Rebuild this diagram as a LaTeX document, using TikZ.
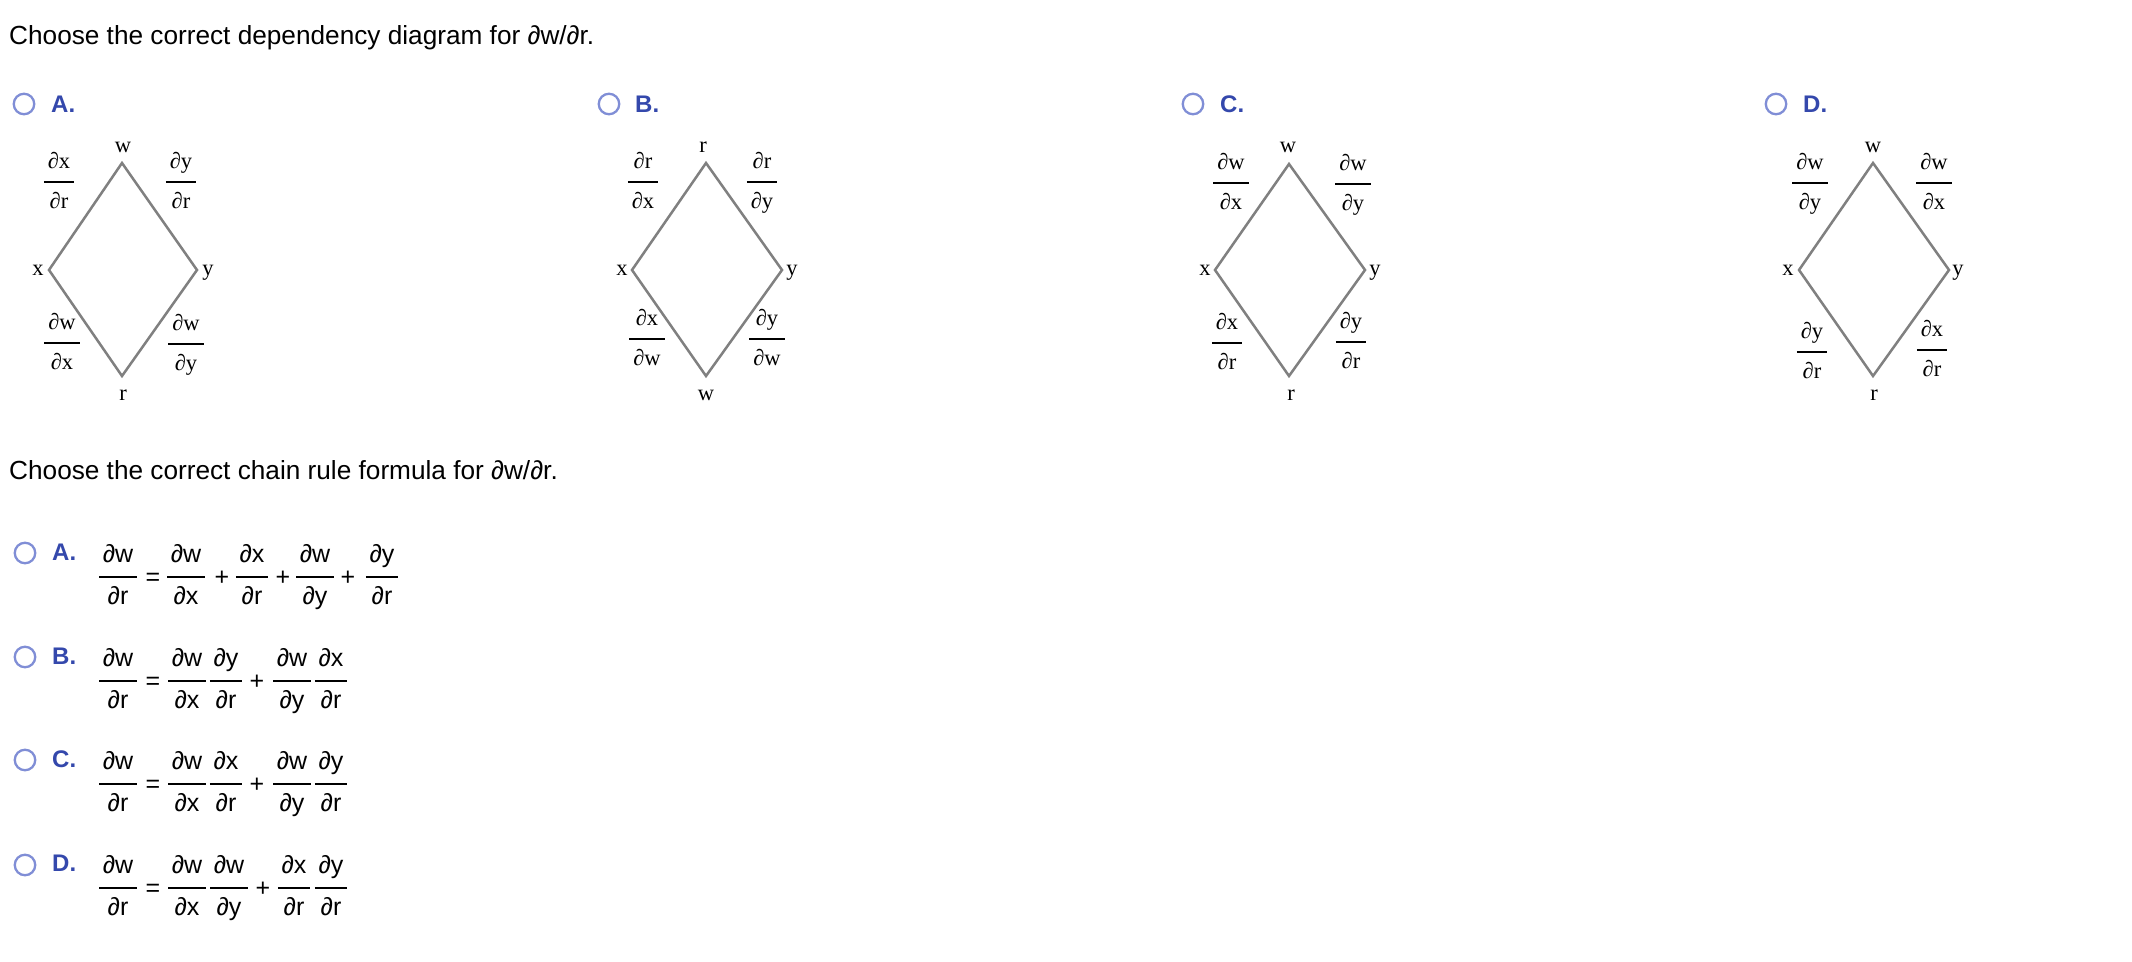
\documentclass[tikz,border=0pt]{standalone}
\usepackage{fontspec}
\setmainfont{Liberation Serif}
\newfontfamily\sansf{Liberation Sans}
\usetikzlibrary{fit}
\definecolor{optblue}{RGB}{52,72,172}
\definecolor{radiocol}{RGB}{128,142,214}
\definecolor{diamgray}{RGB}{128,128,128}
\tikzset{
 ser/.style={font=\fontsize{22.5}{26}\selectfont, inner ysep=0pt, inner xsep=3.5pt},
 sns/.style={font=\sansf\fontsize{25}{30}\selectfont, inner ysep=0pt, inner xsep=3.3pt},
 ttl/.style={font=\sansf\fontsize{26.2}{31}\selectfont, inner sep=0pt, anchor=base west},
 optlab/.style={font=\sansf\bfseries\fontsize{24}{28}\selectfont, text=optblue, inner sep=0pt, anchor=base west},
 radio/.style={circle, draw=radiocol, line width=2.3pt, minimum size=20.5pt, inner sep=0pt},
 diam/.style={draw=diamgray, line width=2.5pt, line join=miter},
 sfbar/.style={line width=1.8pt},
 tfbar/.style={line width=2.3pt},
 vlab/.style={font=\fontsize{22.5}{26}\selectfont, inner sep=0pt, anchor=base},
 op/.style={font=\sansf\fontsize{25}{30}\selectfont, inner sep=0pt, anchor=base},
}
% serif fraction: name, x, bar y, numerator, denominator
\newcommand\tfr[5]{%
  \coordinate (#1b) at (#2,#3);
  \node[ser, anchor=base] (#1n) at (#2,#3-14) {#4};
  \node[ser, anchor=base] (#1d) at (#2,#3+26) {#5};
  \node[fit=(#1n)(#1d), inner sep=0pt] (#1) {};
  \draw[tfbar] (#1.west |- #1b) -- (#1.east |- #1b);
}
% sans fraction
\newcommand\sfr[5]{%
  \coordinate (#1b) at (#2,#3);
  \node[sns, anchor=base] (#1n) at (#2,#3-15) {#4};
  \node[sns, anchor=base] (#1d) at (#2,#3+27) {#5};
  \node[fit=(#1n)(#1d), inner sep=0pt] (#1) {};
  \draw[sfbar] (#1.west |- #1b) -- (#1.east |- #1b);
}
\begin{document}
\begin{tikzpicture}[x=1pt,y=-1pt]
\fill[white] (0,0) rectangle (2132,961);
\useasboundingbox (0,0) rectangle (2132,961);

% titles
\node[ttl] (title1) at (9,44) {Choose the correct dependency diagram for ∂w/∂r.};
\node[ttl] (title2) at (9,479) {Choose the correct chain rule formula for ∂w/∂r.};

% top radio options
\node[radio] (rA) at (24,104) {};
\node[optlab] (lA) at (51,112) {A.};
\node[radio] (rB) at (609,104) {};
\node[optlab] (lB) at (635,112) {B.};
\node[radio] (rC) at (1193,104) {};
\node[optlab] (lC) at (1220,112) {C.};
\node[radio] (rD) at (1776,104) {};
\node[optlab] (lD) at (1803,112) {D.};

% ---------- Diagram A ----------
\coordinate (aT) at (122,163);
\coordinate (aL) at (49,270);
\coordinate (aR) at (197,270);
\coordinate (aB) at (122,376);
\draw[diam] (aT) -- (aR) -- (aB) -- (aL) -- cycle;
\node[vlab] (aw) at (123,152) {w};
\node[vlab] (ax) at (38,275) {x};
\node[vlab] (ay) at (208,275) {y};
\node[vlab] (ar) at (123,400) {r};
\tfr{aTL}{59}{182}{∂x}{∂r}
\tfr{aTR}{181}{182}{∂y}{∂r}
\tfr{aBL}{62}{343}{∂w}{∂x}
\tfr{aBR}{186}{344}{∂w}{∂y}

% ---------- Diagram B ----------
\coordinate (bT) at (706,163);
\coordinate (bL) at (632,270);
\coordinate (bR) at (782,270);
\coordinate (bB) at (706,376);
\draw[diam] (bT) -- (bR) -- (bB) -- (bL) -- cycle;
\node[vlab] (br) at (703,152) {r};
\node[vlab] (bx) at (622,275) {x};
\node[vlab] (by) at (792,275) {y};
\node[vlab] (bw) at (706,400) {w};
\tfr{bTL}{643}{182}{∂r}{∂x}
\tfr{bTR}{762}{182}{∂r}{∂y}
\tfr{bBL}{647}{339}{∂x}{∂w}
\tfr{bBR}{767}{339}{∂y}{∂w}

% ---------- Diagram C ----------
\coordinate (cT) at (1289,164);
\coordinate (cL) at (1215,270);
\coordinate (cR) at (1365,270);
\coordinate (cB) at (1289,376);
\draw[diam] (cT) -- (cR) -- (cB) -- (cL) -- cycle;
\node[vlab] (cw) at (1288,152) {w};
\node[vlab] (cx) at (1205,275) {x};
\node[vlab] (cy) at (1375,275) {y};
\node[vlab] (cr) at (1291,400) {r};
\tfr{cTL}{1231}{183}{∂w}{∂x}
\tfr{cTR}{1353}{184}{∂w}{∂y}
\tfr{cBL}{1227}{343}{∂x}{∂r}
\tfr{cBR}{1351}{342}{∂y}{∂r}

% ---------- Diagram D ----------
\coordinate (dT) at (1873,163);
\coordinate (dL) at (1799,270);
\coordinate (dR) at (1949,270);
\coordinate (dB) at (1873,376);
\draw[diam] (dT) -- (dR) -- (dB) -- (dL) -- cycle;
\node[vlab] (dw) at (1873,152) {w};
\node[vlab] (dx) at (1788,275) {x};
\node[vlab] (dy) at (1958,275) {y};
\node[vlab] (dr) at (1874,400) {r};
\tfr{dTL}{1810}{183}{∂w}{∂y}
\tfr{dTR}{1934}{183}{∂w}{∂x}
\tfr{dBL}{1812}{352}{∂y}{∂r}
\tfr{dBR}{1932}{350}{∂x}{∂r}

% ---------- Chain rule options ----------
\node[radio] (fA) at (25,553) {};
\node[optlab] (flA) at (52,560) {A.};
\sfr{fA0}{118}{577}{∂w}{∂r}
\node[op] (fAeq) at (153,585.8) {=};
\sfr{fA1}{186}{577}{∂w}{∂x}
\node[op] (fAp1) at (222,585.8) {+};
\sfr{fA2}{252}{577}{∂x}{∂r}
\node[op] (fAp2) at (283,585.8) {+};
\sfr{fA3}{315}{577}{∂w}{∂y}
\node[op] (fAp3) at (348,585.8) {+};
\sfr{fA4}{382}{577}{∂y}{∂r}

\node[radio] (fB) at (25,657) {};
\node[optlab] (flB) at (52,664) {B.};
\sfr{fB0}{118}{681}{∂w}{∂r}
\node[op] (fBeq) at (153,689.8) {=};
\sfr{fB1}{187}{681}{∂w}{∂x}
\sfr{fB2}{226}{681}{∂y}{∂r}
\node[op] (fBp) at (257,689.8) {+};
\sfr{fB3}{292}{681}{∂w}{∂y}
\sfr{fB4}{331}{681}{∂x}{∂r}

\node[radio] (fC) at (25,760) {};
\node[optlab] (flC) at (52,767) {C.};
\sfr{fC0}{118}{784}{∂w}{∂r}
\node[op] (fCeq) at (153,792.8) {=};
\sfr{fC1}{187}{784}{∂w}{∂x}
\sfr{fC2}{226}{784}{∂x}{∂r}
\node[op] (fCp) at (257,792.8) {+};
\sfr{fC3}{292}{784}{∂w}{∂y}
\sfr{fC4}{331}{784}{∂y}{∂r}

\node[radio] (fD) at (25,865) {};
\node[optlab] (flD) at (52,871) {D.};
\sfr{fD0}{118}{888}{∂w}{∂r}
\node[op] (fDeq) at (153,896.8) {=};
\sfr{fD1}{187}{888}{∂w}{∂x}
\sfr{fD2}{229}{888}{∂w}{∂y}
\node[op] (fDp) at (263,896.8) {+};
\sfr{fD3}{294}{888}{∂x}{∂r}
\sfr{fD4}{331}{888}{∂y}{∂r}
\end{tikzpicture}
\end{document}
